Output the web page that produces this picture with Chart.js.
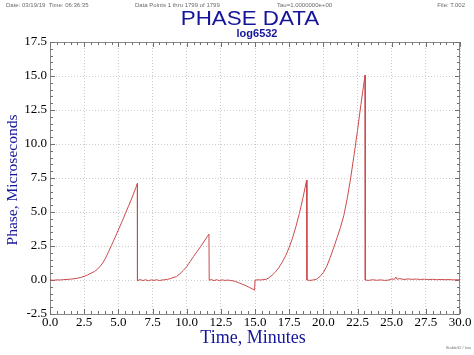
<!DOCTYPE html>
<html>
<head>
<meta charset="utf-8">
<script src="https://cdn.jsdelivr.net/npm/chart.js@4/dist/chart.umd.min.js"></script>
<style>
  html, body { margin: 0; padding: 0; background: #fff; }
  #wrap { position: relative; width: 474px; height: 355px; }
</style>
</head>
<body>
<div id="wrap"><canvas id="c" width="474" height="355"></canvas></div>
<script>
// ---- data ----
const timeMinutes = [
  0.0, 0.25, 0.5, 0.75, 1.0, 1.25, 1.5, 1.75, 2.0, 2.25, 2.5, 2.75, 3.0, 3.25, 3.5, 3.75,
  4.0, 4.25, 4.5, 4.75, 5.0, 5.25, 5.5, 5.75, 6.0, 6.25, 6.39,
  6.4, 6.6, 6.8, 7.0, 7.2, 7.4, 7.6, 7.8, 8.0, 8.2, 8.4, 8.6, 8.8, 9.0, 9.25, 9.5, 9.75,
  10.0, 10.25, 10.5, 10.75, 11.0, 11.25, 11.5, 11.63,
  11.65, 11.8, 12.0, 12.2, 12.4, 12.6, 12.8, 13.0, 13.2, 13.4, 13.6, 13.8, 14.0, 14.2,
  14.4, 14.6, 14.8, 14.97,
  15.0, 15.2, 15.4, 15.6, 15.8, 16.0, 16.25, 16.5, 16.75, 17.0, 17.25, 17.5, 17.75,
  18.0, 18.25, 18.5, 18.78,
  18.8, 19.0, 19.25, 19.5, 19.75, 20.0, 20.25, 20.5, 20.75, 21.0, 21.25, 21.5, 21.75,
  22.0, 22.25, 22.5, 22.75, 23.05,
  23.07, 23.3, 23.6, 23.9, 24.2, 24.5, 24.8, 25.0, 25.2, 25.3, 25.4, 25.6, 25.9, 26.2,
  26.5, 26.8, 27.1, 27.4, 27.7, 28.0, 28.3, 28.6, 28.9, 29.2, 29.5, 29.8, 30.0
];
const phaseMicroseconds = [
  0.0, -0.02, 0.01, 0.0, 0.03, 0.04, 0.06, 0.09, 0.13, 0.19, 0.27, 0.37, 0.5, 0.62, 0.82, 1.1,
  1.48, 2.0, 2.55, 3.1, 3.68, 4.25, 4.85, 5.45, 6.05, 6.7, 7.1,
  -0.05, 0.03, -0.04, 0.02, -0.06, 0.01, -0.03, 0.02, -0.04, 0.0, 0.02, 0.05, 0.1, 0.17, 0.25, 0.45, 0.7,
  0.98, 1.35, 1.72, 2.08, 2.43, 2.8, 3.18, 3.38,
  -0.02, 0.03, -0.04, 0.02, -0.05, 0.01, -0.03, 0.0, -0.04, -0.06, -0.12, -0.2, -0.28, -0.36,
  -0.45, -0.55, -0.65, -0.75,
  -0.02, 0.02, 0.0, 0.03, 0.05, 0.15, 0.35, 0.6, 0.92, 1.32, 1.8, 2.4, 3.1,
  3.95, 4.9, 6.0, 7.35,
  0.0, -0.03, 0.0, 0.06, 0.25, 0.55, 1.0, 1.65, 2.35, 3.1, 3.85, 4.75, 6.0,
  7.5, 9.2, 11.0, 12.9, 15.07,
  0.0, -0.03, 0.02, -0.02, 0.01, -0.03, 0.0, 0.08, 0.05, 0.22, 0.06, 0.1, 0.04, 0.08,
  0.05, 0.07, 0.04, 0.06, 0.03, 0.05, 0.02, 0.04, 0.02, 0.03, 0.01, 0.02, 0.02
];
const yTickValues = [-2.5, 0.0, 2.5, 5.0, 7.5, 10.0, 12.5, 15.0, 17.5];
const xTickValues = [0.0, 2.5, 5.0, 7.5, 10.0, 12.5, 15.0, 17.5, 20.0, 22.5, 25.0, 27.5, 30.0];
const titleText = "PHASE DATA";
const subtitleText = "log6532";
const headerTexts = ["Date: 03/19/19  Time: 06:36:35", "Data Points 1 thru 1799 of 1799", "Tau=1.0000000e+00", "File: T.002"];
const xTitle = "Time, Minutes";
const yTitle = "Phase, Microseconds";
const footerText = "Stable32 / Ixia";

const points = timeMinutes.map((t, i) => ({ x: t, y: phaseMicroseconds[i] }));
const NAVY = '#15159a';

const decor = {
  id: 'decor',
  beforeDatasetsDraw(chart) {
    const { ctx, chartArea: a, scales } = chart;
    ctx.save();
    ctx.strokeStyle = '#8a8a8a';
    ctx.lineWidth = 1;
    ctx.strokeRect(Math.round(a.left) + 0.5, Math.round(a.top) + 0.5, Math.round(a.right - a.left) - 1, Math.round(a.bottom - a.top));
    ctx.strokeStyle = '#707070';
    ctx.beginPath();
    for (let v = 0; v <= 30.001; v += 0.5) {
      const px = Math.round(scales.x.getPixelForValue(v)) + 0.5;
      const major = Math.abs(v / 2.5 - Math.round(v / 2.5)) < 1e-6;
      const L = major ? 5 : 3;
      ctx.moveTo(px, a.bottom); ctx.lineTo(px, a.bottom - L);
      ctx.moveTo(px, a.top); ctx.lineTo(px, a.top + L);
    }
    for (let v = -2.5; v <= 17.501; v += 0.5) {
      const py = Math.round(scales.y.getPixelForValue(v)) + 0.5;
      const major = Math.abs(v / 2.5 - Math.round(v / 2.5)) < 1e-6;
      const L = major ? 5 : 3;
      ctx.moveTo(a.left, py); ctx.lineTo(a.left + L, py);
      ctx.moveTo(a.right, py); ctx.lineTo(a.right - L, py);
    }
    ctx.stroke();
    ctx.restore();
  },
  afterDraw(chart) {
    const { ctx } = chart;
    ctx.save();
    ctx.fillStyle = '#6a6a6a';
    ctx.font = '6px "Liberation Sans", Arial, sans-serif';
    ctx.textBaseline = 'middle';
    ctx.textAlign = 'left';
    ctx.fillText(headerTexts[0], 6, 5);
    ctx.fillText(headerTexts[1], 135, 5);
    ctx.fillText(headerTexts[2], 277, 5);
    ctx.textAlign = 'right';
    ctx.fillText(headerTexts[3], 465, 5);
    ctx.fillStyle = NAVY;
    ctx.textAlign = 'center';
    ctx.textBaseline = 'alphabetic';
    ctx.save();
    ctx.translate(250, 25);
    ctx.scale(1.12, 1);
    ctx.font = '20px "Liberation Sans", Arial, sans-serif';
    ctx.fillText(titleText, 0, 0);
    ctx.restore();
    ctx.font = 'bold 11px "Liberation Sans", Arial, sans-serif';
    ctx.fillText(subtitleText, 257, 37);
    ctx.textBaseline = 'middle';
    ctx.font = '18px "Liberation Serif", "Times New Roman", serif';
    ctx.fillText(xTitle, 253, 338);
    ctx.save();
    ctx.translate(13, 180);
    ctx.rotate(-Math.PI / 2);
    ctx.font = '15.5px "Liberation Serif", "Times New Roman", serif';
    ctx.fillText(yTitle, 0, 0);
    ctx.restore();
    ctx.fillStyle = '#777';
    ctx.font = '4px "Liberation Sans", Arial, sans-serif';
    ctx.textAlign = 'right';
    ctx.fillText(footerText, 471, 348);
    ctx.restore();
  }
};

new Chart(document.getElementById('c'), {
  type: 'line',
  data: {
    datasets: [{
      data: points,
      borderColor: '#cc4a4a',
      borderWidth: 1,
      pointRadius: 0,
      tension: 0,
      fill: false
    }]
  },
  options: {
    responsive: false,
    animation: false,
    devicePixelRatio: 1,
    layout: { padding: { left: 0, right: 14, top: 42, bottom: 0 } },
    plugins: { legend: { display: false }, title: { display: false }, tooltip: { enabled: false } },
    scales: {
      x: {
        type: 'linear', min: 0, max: 30,
        afterFit(s) { s.height = 41; },
        afterBuildTicks(s) { s.ticks = xTickValues.map(v => ({ value: v })); },
        ticks: {
          autoSkip: false, maxRotation: 0, padding: 1, color: '#000',
          font: { family: '"Liberation Serif", "Times New Roman", serif', size: 13 },
          callback: v => Number(v).toFixed(1)
        },
        grid: { color: '#cccccc', lineWidth: 1, drawTicks: false },
        border: { display: false, dash: [1, 2] }
      },
      y: {
        type: 'linear', min: -2.5, max: 17.5,
        afterFit(s) { s.width = 50; },
        afterBuildTicks(s) { s.ticks = yTickValues.map(v => ({ value: v })); },
        ticks: {
          autoSkip: false, padding: 3, color: '#000',
          font: { family: '"Liberation Serif", "Times New Roman", serif', size: 13 },
          callback: v => Number(v).toFixed(1)
        },
        grid: { color: '#cccccc', lineWidth: 1, drawTicks: false },
        border: { display: false, dash: [1, 2] }
      }
    }
  },
  plugins: [decor]
});
</script>
</body>
</html>
